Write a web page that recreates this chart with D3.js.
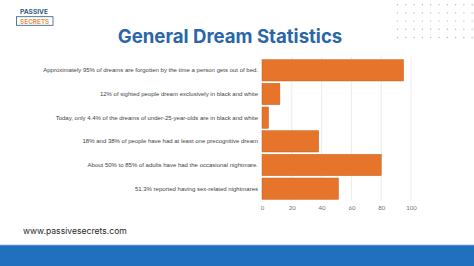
<!DOCTYPE html>
<html>
<head>
<meta charset="utf-8">
<script src="https://cdn.jsdelivr.net/npm/d3@7"></script>
<style>
  body { margin: 0; background: #fff; }
  svg { display: block; }
</style>
</head>
<body>
<div id="chart"></div>
<script>
// chart data
const categories = [
    "Approximately 95% of dreams are forgotten by the time a person gets out of bed.",
    "12% of sighted people dream exclusively in black and white",
    "Today, only 4.4% of the dreams of under-25-year-olds are in black and white",
    "18% and 38% of people have had at least one precognitive dream",
    "About 50% to 85% of adults have had the occasional nightmare.",
    "51.3% reported having sex-related nightmares"
];
const values = [95, 12, 4.4, 38, 80, 51.3];
const xTicks = [0, 20, 40, 60, 80, 100];

const width = 474;
const height = 266;

const svg = d3.select("#chart")
    .append("svg")
    .attr("width", width)
    .attr("height", height);

// logo
svg.append("text")
    .attr("x", 34).attr("y", 14.2)
    .attr("text-anchor", "middle")
    .attr("font-family", "Inter, sans-serif")
    .attr("font-weight", 700)
    .attr("font-size", "6.6px")
    .attr("fill", "#2d5a86")
    .text("PASSIVE");
svg.append("rect")
    .attr("x", 16.5).attr("y", 16.7)
    .attr("width", 36.5).attr("height", 8.6)
    .attr("fill", "none")
    .attr("stroke", "#2d5a86")
    .attr("stroke-width", 0.8);
svg.append("text")
    .attr("x", 34.7).attr("y", 23.6)
    .attr("text-anchor", "middle")
    .attr("font-family", "Inter, sans-serif")
    .attr("font-weight", 600)
    .attr("font-size", "6.4px")
    .attr("fill", "#e8893a")
    .text("SECRETS");

// dot grid top right
const dotCols = d3.range(10);
const dotRows = d3.range(5);
svg.append("g")
    .attr("fill", "#b9b9b9")
    .selectAll("circle")
    .data(d3.cross(dotRows, dotCols))
    .join("circle")
    .attr("cx", d => 397.5 + d[1] * 8.3)
    .attr("cy", d => 4.7 + d[0] * 8.2)
    .attr("r", 0.7);

// title
svg.append("text")
    .attr("x", 230).attr("y", 42.7)
    .attr("text-anchor", "middle")
    .attr("font-family", "Inter, sans-serif")
    .attr("font-weight", 700)
    .attr("font-size", "18.6px")
    .attr("fill", "#2a66a8")
    .text("General Dream Statistics");

const x = d3.scaleLinear()
    .domain([0, 100])
    .range([262, 411]);

const y = d3.scaleBand()
    .domain(categories)
    .range([58.5, 200.5])
    .paddingInner(0.1)
    .paddingOuter(0.05);

// grid lines
svg.append("g")
    .attr("stroke", "#e4e4e4")
    .attr("stroke-width", 0.7)
    .selectAll("line")
    .data(xTicks.slice(1))
    .join("line")
    .attr("x1", d => x(d))
    .attr("x2", d => x(d))
    .attr("y1", 57)
    .attr("y2", 200.5);

// bars
svg.append("g")
    .selectAll("rect")
    .data(values)
    .join("rect")
    .attr("x", x(0))
    .attr("y", (d, i) => y(categories[i]))
    .attr("width", d => x(d) - x(0))
    .attr("height", y.bandwidth())
    .attr("fill", "#e6742a")
    .attr("stroke", "#c45f1e")
    .attr("stroke-width", 0.5);

// x axis
const xAxis = svg.append("g")
    .attr("transform", `translate(0,${201})`)
    .call(d3.axisBottom(x).tickValues(xTicks).tickSize(0).tickPadding(5));
xAxis.select(".domain").remove();
xAxis.selectAll("text")
    .attr("font-family", "Lato, sans-serif")
    .attr("font-size", "6px")
    .attr("fill", "#6f6f6f");

// y axis labels
const yAxis = svg.append("g")
    .attr("transform", `translate(${x(0)},0)`)
    .call(d3.axisLeft(y).tickSize(0).tickPadding(4));
yAxis.select(".domain").remove();
yAxis.selectAll("text")
    .attr("font-family", "'Liberation Sans Narrow', 'Liberation Sans', sans-serif")
    .attr("font-size", "6px")
    .attr("fill", "#444");

// footer
svg.append("text")
    .attr("x", 23).attr("y", 234)
    .attr("font-family", "Inter, sans-serif")
    .attr("font-size", "8.6px")
    .attr("fill", "#2a2a2a")
    .text("www.passivesecrets.com");
svg.append("rect")
    .attr("x", 0).attr("y", 245)
    .attr("width", width).attr("height", 21)
    .attr("fill", "#2070bd");
svg.append("line")
    .attr("x1", 0).attr("x2", width)
    .attr("y1", 245).attr("y2", 245)
    .attr("stroke", "#8fb5de")
    .attr("stroke-width", 0.8);
</script>
</body>
</html>
